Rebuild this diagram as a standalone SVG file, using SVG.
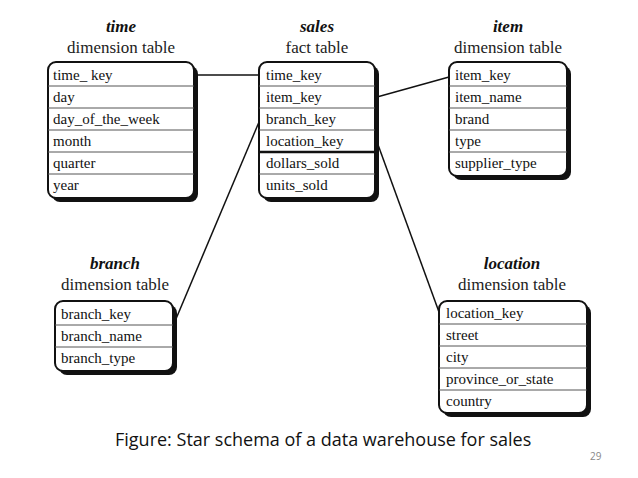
<svg xmlns="http://www.w3.org/2000/svg" width="638" height="478" viewBox="0 0 638 478">
<style>
.t{font-family:"Liberation Serif",serif;font-size:15px;fill:#111}
.h{font-family:"Liberation Serif",serif;font-size:17px;fill:#222;text-anchor:middle}
.hi{font-family:"Liberation Serif",serif;font-size:17px;font-weight:bold;font-style:italic;fill:#111;text-anchor:middle}
.box{fill:#fff;stroke:#111;stroke-width:2}
.sh{fill:#111}
.r{stroke:#555;stroke-width:1}
.c{stroke:#111;stroke-width:1.5;fill:none}
</style>
<rect width="638" height="478" fill="#fff"/>
<g id="connectors">
<line class="c" x1="194" y1="75" x2="259" y2="75"/>
<line class="c" x1="377" y1="97" x2="449" y2="77"/>
<line class="c" x1="259" y1="122" x2="173" y2="326"/>
<line class="c" x1="377" y1="142" x2="439" y2="312"/>
</g>
<g id="time">
<text class="hi" x="121" y="32">time</text><text class="h" x="121" y="53">dimension table</text>
<rect class="sh" x="52" y="66" width="146" height="136" rx="8"/>
<rect class="box" x="48" y="62" width="146" height="136" rx="8"/>
<g class="r"><line x1="48" y1="86" x2="194" y2="86"/><line x1="48" y1="108" x2="194" y2="108"/><line x1="48" y1="130" x2="194" y2="130"/><line x1="48" y1="152" x2="194" y2="152"/><line x1="48" y1="174" x2="194" y2="174"/></g>
<text class="t" x="53" y="80">time_ key</text><text class="t" x="53" y="102">day</text><text class="t" x="53" y="124">day_of_the_week</text><text class="t" x="53" y="146">month</text><text class="t" x="53" y="168">quarter</text><text class="t" x="53" y="190">year</text>
</g>
<g id="sales">
<text class="hi" x="317" y="32">sales</text><text class="h" x="317" y="53">fact table</text>
<rect class="sh" x="263" y="66" width="116" height="136" rx="8"/>
<rect class="box" x="259" y="62" width="116" height="136" rx="8" stroke-width="3.5"/>
<g class="r"><line x1="259" y1="86" x2="375" y2="86"/><line x1="259" y1="108" x2="375" y2="108"/><line x1="259" y1="130" x2="375" y2="130"/><line x1="259" y1="152" x2="375" y2="152" stroke="#111" stroke-width="2.5"/><line x1="259" y1="174" x2="375" y2="174"/></g>
<text class="t" x="266" y="80">time_key</text><text class="t" x="266" y="102">item_key</text><text class="t" x="266" y="124">branch_key</text><text class="t" x="266" y="146">location_key</text><text class="t" x="266" y="168">dollars_sold</text><text class="t" x="266" y="190">units_sold</text>
</g>
<g id="item">
<text class="hi" x="508" y="32">item</text><text class="h" x="508" y="53">dimension table</text>
<rect class="sh" x="453" y="66" width="118" height="114" rx="8"/>
<rect class="box" x="449" y="62" width="118" height="114" rx="8"/>
<g class="r"><line x1="449" y1="86" x2="567" y2="86"/><line x1="449" y1="108" x2="567" y2="108"/><line x1="449" y1="130" x2="567" y2="130"/><line x1="449" y1="152" x2="567" y2="152"/></g>
<text class="t" x="455" y="80">item_key</text><text class="t" x="455" y="102">item_name</text><text class="t" x="455" y="124">brand</text><text class="t" x="455" y="146">type</text><text class="t" x="455" y="168">supplier_type</text>
</g>
<g id="branch">
<text class="hi" x="115" y="269">branch</text><text class="h" x="115" y="290">dimension table</text>
<rect class="sh" x="59" y="305" width="118" height="70" rx="8"/>
<rect class="box" x="55" y="301" width="118" height="70" rx="8"/>
<g class="r"><line x1="55" y1="325" x2="173" y2="325"/><line x1="55" y1="347" x2="173" y2="347"/></g>
<text class="t" x="61" y="319">branch_key</text><text class="t" x="61" y="341">branch_name</text><text class="t" x="61" y="363">branch_type</text>
</g>
<g id="location">
<text class="hi" x="512" y="269">location</text><text class="h" x="512" y="290">dimension table</text>
<rect class="sh" x="443" y="305" width="148" height="112" rx="8"/>
<rect class="box" x="439" y="301" width="148" height="112" rx="8"/>
<g class="r"><line x1="439" y1="324" x2="587" y2="324"/><line x1="439" y1="346" x2="587" y2="346"/><line x1="439" y1="368" x2="587" y2="368"/><line x1="439" y1="390" x2="587" y2="390"/></g>
<text class="t" x="446" y="318">location_key</text><text class="t" x="446" y="340">street</text><text class="t" x="446" y="362">city</text><text class="t" x="446" y="384">province_or_state</text><text class="t" x="446" y="406">country</text>
</g>
<text x="115" y="446" font-family="Open Sans, sans-serif" font-size="18" fill="#111">Figure: Star schema of a data warehouse for sales</text>
<text x="590" y="460" font-family="Open Sans, sans-serif" font-size="10" fill="#888">29</text>
</svg>
